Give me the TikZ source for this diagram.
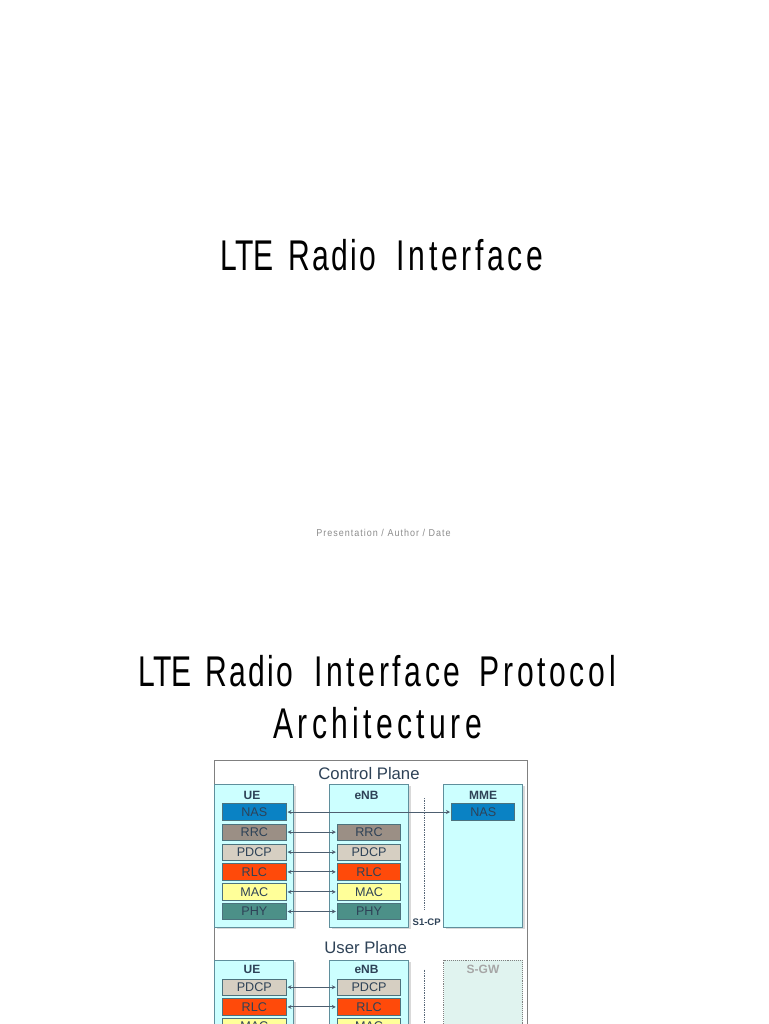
\documentclass[tikz,border=0pt]{standalone}
\usepackage{fontspec}
\setmainfont{Liberation Sans}
\newfontfamily\tight[FakeStretch=0.70]{Liberation Sans}
\newfontfamily\wide[FakeStretch=0.70,LetterSpace=8.5]{Liberation Sans}
\newfontfamily\narrowsp[FakeStretch=0.70,LetterSpace=5.5]{Liberation Sans}
\newfontfamily\widest[FakeStretch=0.70,LetterSpace=10.2]{Liberation Sans}
\newfontfamily\foot[FakeStretch=0.9,LetterSpace=10]{Liberation Sans}
\usetikzlibrary{arrows.meta,shadows}
\definecolor{inkc}{HTML}{2E4257}
\definecolor{boxc}{HTML}{CCFFFF}
\definecolor{edgec}{HTML}{5F8F9C}
\definecolor{nasc}{HTML}{0A82C4}
\definecolor{rrcc}{HTML}{9B8F85}
\definecolor{pdcpc}{HTML}{D6CFC2}
\definecolor{rlcc}{HTML}{FF4A0A}
\definecolor{macc}{HTML}{FFFF99}
\definecolor{phyc}{HTML}{4C9088}
\definecolor{sgwc}{HTML}{E0F3EF}
\tikzset{
  x=1pt,y=-1pt,
  titletext/.style={font=\fontsize{43}{43}\selectfont,text=black,inner sep=0pt,anchor=base west},
  planetext/.style={font=\fontsize{16.7}{16.7}\selectfont,text=inkc,inner sep=0pt},
  headtext/.style={font=\bfseries\fontsize{12}{12}\selectfont,text=inkc,inner sep=0pt},
  entity/.style={draw=edgec,line width=1pt,fill=boxc,minimum width=79pt,inner sep=0pt,
    drop shadow={shadow xshift=2pt,shadow yshift=-2pt,fill=black!15,opacity=1}},
  layer/.style={draw=edgec!80!black,line width=1pt,minimum width=63.4pt,minimum height=16.2pt,inner sep=0pt,
    font=\fontsize{12.6}{12.6}\selectfont,text=inkc},
  link/.style={draw=inkc!85,line width=0.9pt,{Stealth[length=4pt,width=4pt]}-{Stealth[length=4pt,width=4pt]},shorten <=1pt,shorten >=1pt},
  cut/.style={draw=inkc!80,line width=0.7pt,densely dotted}
}
\begin{document}
\begin{tikzpicture}
\useasboundingbox (0,0) rectangle (768,1024);
\clip (0,0) rectangle (768,1024);
\fill[white] (0,0) rectangle (768,1024);

% titles
\node[titletext] (t1a) at (220.5,270) {\tight LTE};
\node[titletext] (t1b) at (288,270) {\narrowsp Radio};
\node[titletext] (t1c) at (396.5,270) {\wide Interface};
\node[inner sep=0pt,font=\foot\fontsize{10}{10}\selectfont,text=black!45] (foot) at (383.5,533) {Presentation / Author / Date};
\node[titletext] (t2a) at (138.5,686) {\tight LTE};
\node[titletext] (t2b) at (205,686) {\narrowsp Radio};
\node[titletext] (t2c) at (314,686) {\wide Interface};
\node[titletext] (t2d) at (479.5,686) {\wide Protocol};
\node[titletext] (t2e) at (273,738) {\widest Architecture};

% frame
\draw[black!50,line width=1pt] (214,1030) -- (214,760) -- (527.5,760) -- (527.5,1030);

\node[planetext] (cp) at (369,773.5) {Control Plane};
\node[planetext] (up) at (365.7,948) {User Plane};

% control plane entities
\node[entity,minimum height=143pt] (ue1) at (254,855.5) {};
\node[entity,minimum height=143pt] (enb1) at (369,855.5) {};
\node[entity,minimum height=143pt] (mme) at (483.2,855.5) {};
\node[headtext] (ue1l) at (252,795.5) {UE};
\node[headtext] (enb1l) at (366.5,795.5) {eNB};
\node[headtext] (mmel) at (483,795.5) {MME};

% UE layers
\node[layer,fill=nasc]  (unas)  at (254.3,812)   {NAS};
\node[layer,fill=rrcc]  (urrc)  at (254.3,832.1) {RRC};
\node[layer,fill=pdcpc] (updcp) at (254.3,852.1) {PDCP};
\node[layer,fill=rlcc]  (urlc)  at (254.3,871.9) {RLC};
\node[layer,fill=macc]  (umac)  at (254.3,891.9) {MAC};
\node[layer,fill=phyc]  (uphy)  at (254.3,911.5) {PHY};
% eNB layers
\node[layer,fill=rrcc]  (erc)   at (369,832.1) {RRC};
\node[layer,fill=pdcpc] (epdcp) at (369,852.1) {PDCP};
\node[layer,fill=rlcc]  (erlc)  at (369,871.9) {RLC};
\node[layer,fill=macc]  (emac)  at (369,891.9) {MAC};
\node[layer,fill=phyc]  (ephy)  at (369,911.5) {PHY};
% MME
\node[layer,fill=nasc]  (mnas)  at (483.2,812) {NAS};

\draw[link] (unas) -- (mnas);
\draw[link] (urrc) -- (erc);
\draw[link] (updcp) -- (epdcp);
\draw[link] (urlc) -- (erlc);
\draw[link] (umac) -- (emac);
\draw[link] (uphy) -- (ephy);

\coordinate (c1a) at (424.3,798);
\coordinate (c1b) at (424.3,910);
\draw[cut] (c1a) -- (c1b);
\node[inner sep=0pt,font=\bfseries\fontsize{9.5}{9.5}\selectfont,text=inkc] (s1) at (426.7,922.7) {S1-CP};

% user plane entities
\node[entity,minimum height=100pt,anchor=north] (ue2) at (254,959.5) {};
\node[entity,minimum height=100pt,anchor=north] (enb2) at (369,959.5) {};
\node[draw=black!50,densely dotted,line width=1.1pt,fill=sgwc,minimum width=79pt,minimum height=100pt,inner sep=0pt,anchor=north] (sgw) at (483.2,959.5) {};
\node[headtext] (ue2l) at (252,969.5) {UE};
\node[headtext] (enb2l) at (366.5,969.5) {eNB};
\node[headtext,text=black!35] (sgwl) at (483,969.5) {S-GW};

\node[layer,fill=pdcpc] (vpdcp) at (254.3,987.2) {PDCP};
\node[layer,fill=rlcc]  (vrlc)  at (254.3,1006.9) {RLC};
\node[layer,fill=macc]  (vmac)  at (254.3,1026.5) {MAC};
\node[layer,fill=pdcpc] (fpdcp) at (369,987.2) {PDCP};
\node[layer,fill=rlcc]  (frlc)  at (369,1006.9) {RLC};
\node[layer,fill=macc]  (fmac)  at (369,1026.5) {MAC};
\draw[link] (vpdcp) -- (fpdcp);
\draw[link] (vrlc) -- (frlc);
\draw[link] (vmac) -- (fmac);

\coordinate (c2a) at (424.3,969.5);
\coordinate (c2b) at (424.3,1030);
\draw[cut] (c2a) -- (c2b);
\end{tikzpicture}
\end{document}
